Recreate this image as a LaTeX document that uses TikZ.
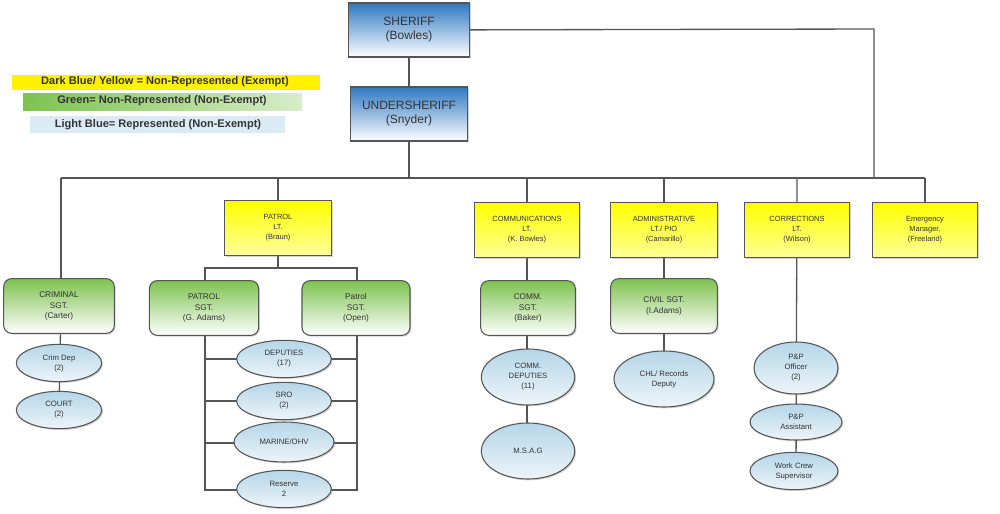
\documentclass[tikz,border=0pt]{standalone}
\usepackage{fontspec}
\setmainfont{Liberation Sans}
\usetikzlibrary{shapes.geometric,shadows}
\definecolor{tx}{HTML}{333333}
\definecolor{dblue}{HTML}{2E78C2}
\definecolor{grn}{HTML}{7DC24F}
\definecolor{lblue}{HTML}{B5D6E8}
\definecolor{ln}{HTML}{555555}
\begin{document}
\begin{tikzpicture}[x=0.75pt,y=-0.75pt,
  base/.style={draw=ln,line width=0.8pt,align=center,text=tx,inner sep=1pt,drop shadow={opacity=0.35,shadow xshift=1pt,shadow yshift=-1pt}},
  top/.style={base,rectangle,top color=dblue,bottom color=white,minimum width=90.75pt,minimum height=40.5pt,font=\fontsize{9}{10.5}\selectfont},
  lt/.style={base,rectangle,top color=yellow,bottom color=yellow!40!white,minimum width=80pt,minimum height=41pt,font=\fontsize{5.6}{7.5}\selectfont},
  sgt/.style={base,rectangle,rounded corners=6pt,top color=grn,bottom color=white,minimum width=82pt,minimum height=41pt,font=\fontsize{6.2}{8}\selectfont},
  el/.style={base,ellipse,top color=lblue,bottom color=lblue!25!white,inner sep=0pt,font=\fontsize{5.8}{7.5}\selectfont},
  conn/.style={draw=ln,line width=1pt}]
\useasboundingbox (0,0) rectangle (1000,514);
% legend
\fill[yellow] (12,75) rectangle (320,90);
\shade[left color=grn,right color=grn!30!white] (23,93) rectangle (302,110);
\fill[lblue!50!white] (30,116) rectangle (285,133);
\node[text=tx,font=\bfseries\fontsize{8.3}{10}\selectfont] (l1) at (165,82) {Dark Blue/ Yellow = Non-Represented (Exempt)};
\node[text=tx,font=\bfseries\fontsize{8.3}{10}\selectfont] (l2) at (162,101) {Green= Non-Represented (Non-Exempt)};
\node[text=tx,font=\bfseries\fontsize{8.3}{10}\selectfont] (l3) at (158,125) {Light Blue= Represented (Non-Exempt)};
% coordinates
\coordinate (b0) at (61,178);
\coordinate (b1) at (925,178);
\coordinate (us) at (409,178);
\coordinate (sc) at (874,29);
\coordinate (sb) at (874,178);
% connectors first
\draw[conn] (409,30) -- (409,114);
\draw[conn] (409,30) -- (sc) -- (sb);
\draw[conn] (409,114) -- (us);
\draw[conn] (b0) -- (b1);
\draw[conn] (b0) -- (61,306);
\draw[conn] (278,178) -- (278,228);
\draw[conn] (527,178) -- (527,451);
\draw[conn] (664,178) -- (664,379);
\draw[conn] (797,178) -- (796,471);
\draw[conn] (925,178) -- (925,230);
\draw[conn] (61,306) -- (59,410);
\draw[conn] (278,228) -- (278,268);
\draw[conn] (205,308) -- (205,268) -- (357,268) -- (357,308);
\draw[conn] (205,308) -- (205,490) -- (237,490);
\draw[conn] (357,308) -- (357,490) -- (331,490);
\foreach \y in {359,401,443} {\draw[conn] (205,\y) -- (250,\y); \draw[conn] (357,\y) -- (320,\y);}
% nodes
\node[top] (sh) at (409,30) {SHERIFF\\(Bowles)};
\node[top,minimum width=87.75pt] (und) at (409,114) {UNDERSHERIFF\\(Snyder)};
\node[lt] (pl) at (278,228) {PATROL\\LT.\\(Braun)};
\node[lt,minimum width=79pt] (cl) at (527,230) {COMMUNICATIONS\\LT.\\(K. Bowles)};
\node[lt,minimum width=80pt] (al) at (664,230) {ADMINISTRATIVE\\LT./ PIO\\(Camarillo)};
\node[lt,minimum width=79pt] (col) at (797,230) {CORRECTIONS\\LT.\\(Wilson)};
\node[lt,minimum width=79pt] (em) at (925,230) {Emergency\\Manager.\\(Freeland)};
\node[sgt,minimum width=83pt] (cs) at (59,306) {CRIMINAL\\SGT.\\(Carter)};
\node[sgt] (ps) at (204,308) {PATROL\\SGT.\\(G. Adams)};
\node[sgt,minimum width=81pt] (po) at (356,308) {Patrol\\SGT.\\(Open)};
\node[sgt,minimum width=71pt] (cms) at (528,308) {COMM.\\SGT.\\(Baker)};
\node[sgt,minimum width=80pt] (cvs) at (664,306) {CIVIL SGT.\\(I.Adams)};
\node[el,minimum width=64pt,minimum height=28pt] (cd) at (59,363) {Crim Dep\\(2)};
\node[el,minimum width=64pt,minimum height=28pt] (ct) at (59,410) {COURT\\(2)};
\node[el,minimum width=71pt,minimum height=28pt] (dp) at (284,359) {DEPUTIES\\(17)};
\node[el,minimum width=71pt,minimum height=28pt] (sro) at (284,401) {SRO\\(2)};
\node[el,minimum width=75pt,minimum height=30pt] (mar) at (284,442) {MARINE/OHV};
\node[el,minimum width=71pt,minimum height=28pt] (res) at (284,489) {Reserve\\2};
\node[el,minimum width=70pt,minimum height=42pt] (cdp) at (528,377) {COMM.\\DEPUTIES\\(11)};
\node[el,minimum width=70pt,minimum height=42pt] (ms) at (528,451) {M.S.A.G};
\node[el,minimum width=75pt,minimum height=42pt] (chl) at (664,379) {CHL/ Records\\Deputy};
\node[el,minimum width=63pt,minimum height=39pt] (ppo) at (796,368) {P\&P\\Officer\\(2)};
\node[el,minimum width=69pt,minimum height=27pt] (ppa) at (796,422) {P\&P\\Assistant};
\node[el,minimum width=66pt,minimum height=28pt] (wc) at (794,471) {Work Crew\\Supervisor};
\end{tikzpicture}
\end{document}
